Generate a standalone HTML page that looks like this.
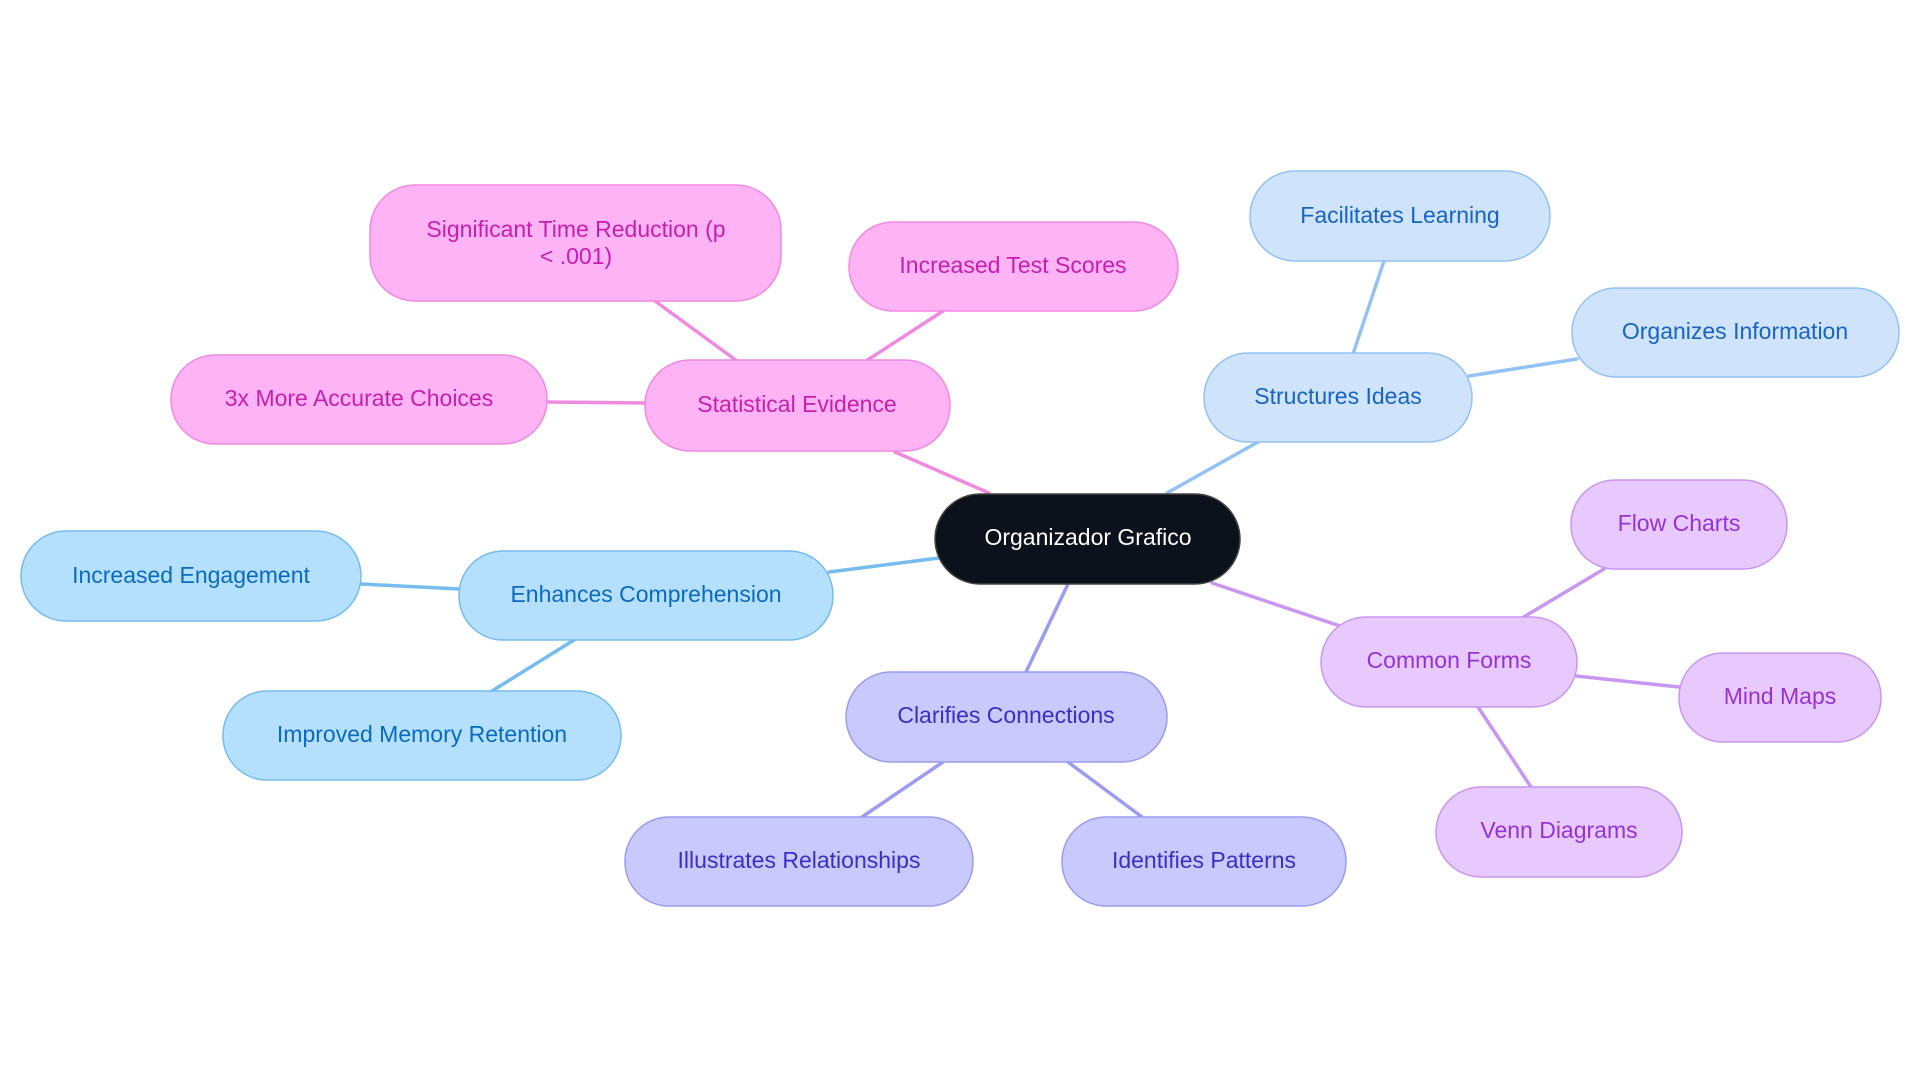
<!DOCTYPE html>
<html><head><meta charset="utf-8"><style>
html,body{margin:0;padding:0;background:#fff;}
svg{display:block;}
text{font-family:"Liberation Sans",sans-serif;font-size:23px;text-anchor:middle;dominant-baseline:central;}
</style></head><body>
<svg width="1920" height="1083" viewBox="0 0 1920 1083" xmlns="http://www.w3.org/2000/svg">
<g stroke-width="3.5" fill="none" stroke-linecap="round">
<line x1="989" y1="493" x2="895" y2="452" stroke="#f08ae0"/>
<line x1="737" y1="361" x2="655" y2="301" stroke="#f08ae0"/>
<line x1="866" y1="361" x2="943" y2="311" stroke="#f08ae0"/>
<line x1="645" y1="403" x2="547" y2="402" stroke="#f08ae0"/>
<line x1="1167" y1="493" x2="1258" y2="442" stroke="#94c2f2"/>
<line x1="1353" y1="354" x2="1384" y2="261" stroke="#94c2f2"/>
<line x1="1469" y1="376" x2="1577" y2="359" stroke="#94c2f2"/>
<line x1="1212" y1="583" x2="1340" y2="626" stroke="#c996f2"/>
<line x1="1522" y1="618" x2="1604" y2="569" stroke="#c996f2"/>
<line x1="1576" y1="676" x2="1679" y2="687" stroke="#c996f2"/>
<line x1="1478" y1="707" x2="1531" y2="787" stroke="#c996f2"/>
<line x1="939" y1="558" x2="829" y2="572" stroke="#76bcee"/>
<line x1="459" y1="589" x2="361" y2="584" stroke="#76bcee"/>
<line x1="574" y1="640" x2="492" y2="691" stroke="#76bcee"/>
<line x1="1068" y1="584" x2="1026" y2="672" stroke="#9c9cf2"/>
<line x1="943" y1="762" x2="862" y2="817" stroke="#9c9cf2"/>
<line x1="1068" y1="762" x2="1142" y2="817" stroke="#9c9cf2"/>
</g>
<!-- center -->
<rect x="935" y="494" width="305" height="90" rx="45" fill="#0c121b" stroke="#444" stroke-width="1.5"/>
<text x="1088" y="537" fill="#ffffff">Organizador Grafico</text>
<!-- pink -->
<g fill="#feb3f5" stroke="#f08ae0" stroke-width="1.5">
<rect x="370" y="185" width="411" height="116" rx="45"/>
<rect x="849" y="222" width="329" height="89" rx="44"/>
<rect x="171" y="355" width="376" height="89" rx="44"/>
<rect x="645" y="360" width="305" height="91" rx="45"/>
</g>
<g fill="#c81ead">
<text x="576" y="229">Significant Time Reduction (p</text>
<text x="576" y="256">&lt; .001)</text>
<text x="1013" y="265">Increased Test Scores</text>
<text x="359" y="398">3x More Accurate Choices</text>
<text x="797" y="404">Statistical Evidence</text>
</g>
<!-- light blue -->
<g fill="#cfe3fb" stroke="#94c2f2" stroke-width="1.5">
<rect x="1250" y="171" width="300" height="90" rx="45"/>
<rect x="1572" y="288" width="327" height="89" rx="44"/>
<rect x="1204" y="353" width="268" height="89" rx="44"/>
</g>
<g fill="#1764c4">
<text x="1400" y="215">Facilitates Learning</text>
<text x="1735" y="331">Organizes Information</text>
<text x="1338" y="396">Structures Ideas</text>
</g>
<!-- purple -->
<g fill="#e8c9fd" stroke="#c996f2" stroke-width="1.5">
<rect x="1571" y="480" width="216" height="89" rx="44"/>
<rect x="1321" y="617" width="256" height="90" rx="45"/>
<rect x="1679" y="653" width="202" height="89" rx="44"/>
<rect x="1436" y="787" width="246" height="90" rx="45"/>
</g>
<g fill="#9532d6">
<text x="1679" y="523">Flow Charts</text>
<text x="1449" y="660">Common Forms</text>
<text x="1780" y="696">Mind Maps</text>
<text x="1559" y="830">Venn Diagrams</text>
</g>
<!-- sky -->
<g fill="#b4e0fe" stroke="#76bcee" stroke-width="1.5">
<rect x="21" y="531" width="340" height="90" rx="45"/>
<rect x="459" y="551" width="374" height="89" rx="44"/>
<rect x="223" y="691" width="398" height="89" rx="44"/>
</g>
<g fill="#0a6abd">
<text x="191" y="575">Increased Engagement</text>
<text x="646" y="594">Enhances Comprehension</text>
<text x="422" y="734">Improved Memory Retention</text>
</g>
<!-- indigo -->
<g fill="#c9c9fe" stroke="#9c9cf2" stroke-width="1.5">
<rect x="846" y="672" width="321" height="90" rx="45"/>
<rect x="625" y="817" width="348" height="89" rx="44"/>
<rect x="1062" y="817" width="284" height="89" rx="44"/>
</g>
<g fill="#3a2fc2">
<text x="1006" y="715">Clarifies Connections</text>
<text x="799" y="860">Illustrates Relationships</text>
<text x="1204" y="860">Identifies Patterns</text>
</g>
</svg>
</body></html>
